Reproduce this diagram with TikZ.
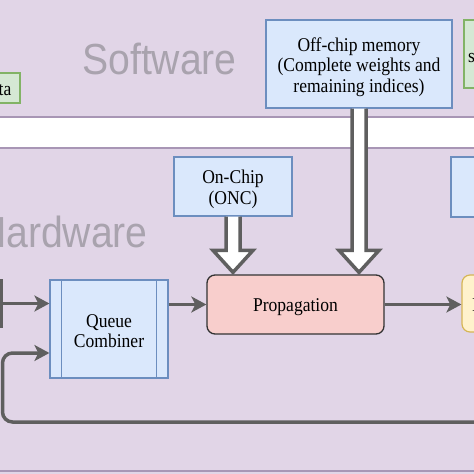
\documentclass[tikz,border=0pt]{standalone}
\usepackage{fontspec}
\setmainfont{Liberation Serif}
\newfontfamily\serifnarrow[FakeStretch=0.9]{Liberation Serif}
\newfontfamily\sansnarrow[FakeStretch=0.9]{Liberation Sans}
\usetikzlibrary{arrows.meta,calc}
\definecolor{bgpurple}{HTML}{E1D5E7}
\definecolor{regionline}{HTML}{A896B5}
\definecolor{bluefill}{HTML}{DAE8FC}
\definecolor{bluedraw}{HTML}{6C8EBF}
\definecolor{greenfill}{HTML}{D5E8D4}
\definecolor{greendraw}{HTML}{82B366}
\definecolor{redfill}{HTML}{F8CECC}
\definecolor{reddraw}{HTML}{333333}
\definecolor{yellowfill}{HTML}{FFF2CC}
\definecolor{yellowdraw}{HTML}{D6B656}
\definecolor{flowgray}{HTML}{5F5F5F}
\definecolor{watermark}{HTML}{A9A3AE}
\newcommand\bxfont{\serifnarrow\fontsize{19.5}{20.5}\selectfont}
\newcommand\wmfont{\sansnarrow\fontsize{43.5}{45}\selectfont}
\begin{document}
\begin{tikzpicture}[x=1pt,y=-1pt,
  box/.style={draw=bluedraw, fill=bluefill, line width=1.2pt, inner sep=0pt},
  boxtext/.style={inner sep=0pt, align=center, font=\bxfont},
  greenbox/.style={draw=greendraw, fill=greenfill, line width=1.2pt, inner sep=0pt},
  redbox/.style={draw=reddraw, fill=redfill, line width=1.3pt, inner sep=0pt, rounded corners=8pt},
  yellowbox/.style={draw=yellowdraw, fill=yellowfill, line width=1.2pt, inner sep=0pt, rounded corners=8pt},
  frag/.style={inner sep=0pt, font=\bxfont},
  watermarktext/.style={inner sep=0pt, text=watermark, font=\wmfont},
  flow/.style={draw=flowgray, line width=3.5pt, -{Stealth[length=15pt,width=16pt,inset=4pt]}},
  hollow/.style={draw=flowgray, fill=white, line width=3.5pt, line join=miter},
  regionrule/.style={draw=regionline, line width=2pt}]
\useasboundingbox (0,0) rectangle (474,474);
\clip (0,0) rectangle (474,474);
% backgrounds
\fill[bgpurple] (-10,-10) rectangle (484,484);
\fill[white] (-10,117) rectangle (484,148);
\draw[regionrule] (-10,117) -- (484,117);
\draw[regionrule] (-10,148) -- (484,148);
\draw[regionrule] (-10,471) -- (484,471);
% watermark labels
\node[watermarktext, anchor=base] (sw) at (159.5,74) {Software};
\node[watermarktext, anchor=base east] (hw) at (148,247) {Hardware};
% nodes
\node[greenbox, minimum width=60pt, minimum height=30pt] (lgreen) at (-10,88) {};
\node[frag, anchor=base east] (lgreentext) at (11.5,95) {ta};
\node[box, minimum width=186pt, minimum height=88pt] (offchip) at (359,64) {};
\node[boxtext] (offchiptext) at ($(offchip.center)+(0,3)$) {Off-chip memory\\(Complete weights and\\remaining indices)};
\node[greenbox, minimum width=56pt, minimum height=68pt] (rgreen) at (492,54) {};
\node[frag, anchor=base west] (rgreentext) at (468,62) {s};
\node[box, minimum width=118pt, minimum height=59pt] (onc) at (233,186.5) {};
\node[boxtext] (onctext) at ($(onc.center)+(0,3)$) {On-Chip\\(ONC)};
\node[box, minimum width=69pt, minimum height=60pt] (rblue) at (485.5,187) {};
\node[box, minimum width=118pt, minimum height=98pt] (qc) at (109,329) {};
\node[boxtext] (qctext) at ($(qc.center)+(0,2)$) {Queue\\Combiner};
\draw[draw=bluedraw, line width=1.2pt] ($(qc.north west)+(12,0)$) -- ($(qc.south west)+(12,0)$);
\draw[draw=bluedraw, line width=1.2pt] ($(qc.north east)+(-12,0)$) -- ($(qc.south east)+(-12,0)$);
\node[redbox, minimum width=177pt, minimum height=59pt] (prop) at (295.5,304.5) {};
\node[boxtext] (proptext) at ($(prop.center)+(0,3)$) {Propagation};
\node[yellowbox, minimum width=58pt, minimum height=57pt] (yel) at (491,303.5) {};
\node[frag, anchor=base west] (yeltext) at (472,311) {I};
\node[draw=flowgray, line width=2.5pt, inner sep=0pt, minimum width=41.5pt, minimum height=47pt] (lbox) at (-19.25,303.5) {};
% connectors
\draw[flow] (lbox.east) -- (qc.west |- lbox.east);
\draw[flow] (qc.east |- prop.west) -- (prop.west);
\draw[flow] (prop.east) -- (yel.west |- prop.east);
\coordinate (fbin) at (530,422);
\draw[flow, rounded corners=10pt] (fbin) -- (2.5,422) |- ($(qc.west)+(0,24)$);
% hollow block arrows
\coordinate (onctip) at ($(onc.south |- prop.north)+(0,-2)$);
\filldraw[hollow] ($(onc.south)+(-7,0)$) -- ($(onctip)+(-7,-22)$) -- ($(onctip)+(-20,-22)$) -- (onctip) -- ($(onctip)+(20,-22)$) -- ($(onctip)+(7,-22)$) -- ($(onc.south)+(7,0)$);
\coordinate (offtip) at ($(offchip.south |- prop.north)+(0,-2)$);
\filldraw[hollow] ($(offchip.south)+(-7,0)$) -- ($(offtip)+(-7,-22)$) -- ($(offtip)+(-20,-22)$) -- (offtip) -- ($(offtip)+(20,-22)$) -- ($(offtip)+(7,-22)$) -- ($(offchip.south)+(7,0)$);
\end{tikzpicture}
\end{document}
